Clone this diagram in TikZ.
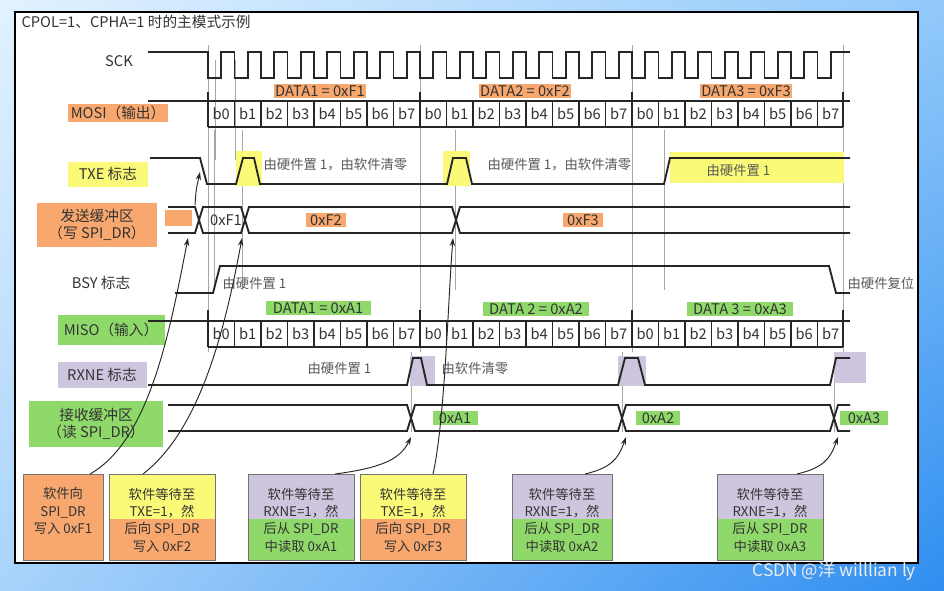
\documentclass[tikz,border=0pt]{standalone}
\usepackage{fontspec}
\setmainfont{Noto Sans CJK SC}
\usetikzlibrary{arrows.meta,shadings}
\definecolor{org}{HTML}{F8A86E}
\definecolor{yel}{HTML}{FBFA78}
\definecolor{grn}{HTML}{8FD96A}
\definecolor{pur}{HTML}{CEC6DE}
\definecolor{txt}{HTML}{333333}
\definecolor{bgul}{HTML}{E2F2FF}
\definecolor{bgur}{HTML}{92C9FA}
\definecolor{bgll}{HTML}{A8D3FB}
\definecolor{bglr}{HTML}{2F8EF0}
\begin{document}
\begin{tikzpicture}[x=0.75pt,y=-0.75pt,
  sig/.style={line width=1.4pt,black!85},
  guide/.style={gray!70,line width=0.5pt},
  lbl/.style={font=\fontsize{11}{13}\selectfont,text=txt,inner sep=1pt},
  note/.style={font=\fontsize{10}{12}\selectfont,text=black!65,inner sep=1pt,anchor=west},
  box/.style={draw=black!55,line width=0.6pt},
  arr/.style={-{Stealth[length=6pt,width=4pt]},line width=0.7pt,black!85},
  btxt/.style={font=\fontsize{10}{13}\selectfont,text=txt,align=center}]
% background
\shade[upper left=bgul,upper right=bgur,lower left=bgll,lower right=bglr] (0,0) rectangle (944,590);
\useasboundingbox (0,0) rectangle (944,590);
\draw[fill=white,line width=0.8pt] (15,12) rectangle (918,563);
\node[lbl,anchor=west] (title) at (20,22) {CPOL=1、CPHA=1 时的主模式示例};
% guides
\foreach \x in {208,420,632,843} \draw[guide] (\x,45) -- (\x,352);
\foreach \x in {214,242,455,664} \draw[guide] (\x,130) -- (\x,290);
\foreach \x in {411,622,834} \draw[guide] (\x,352) -- (\x,432);
\foreach \x in {235,215} \draw[guide] (\x,60) -- (\x,160);
% SCK
\node[lbl] (sck) at (119,61) {SCK};
\draw[sig] (148,52) \foreach \i in {0,...,23}{ -- ({208+\i*26.5},52) -- ({208+\i*26.5},78) -- ({221.25+\i*26.5},78) -- ({221.25+\i*26.5},52)} -- (850,52);
% MOSI
\node[lbl,fill=org,minimum width=100*0.75pt,minimum height=18*0.75pt] (mosi) at (118,113) {MOSI（输出）};
\draw[sig] (148,101) -- (850,101);
\foreach \x in {208,420,632,843} \draw[sig] (\x,92) -- (\x,127);
\draw[sig] (208,127) -- (843,127);
\foreach \i in {0,...,23}{
  \pgfmathtruncatemacro\b{mod(\i,8)}
  \draw[sig,line width=1pt] ({208+\i*26.5},101) -- ({208+\i*26.5},127);
  \node[lbl] (mb\i) at ({221.25+\i*26.5},114) {b\b};}
\node[lbl,fill=org] (d1) at (320,91) {DATA1 = 0xF1};
\node[lbl,fill=org] (d2) at (525,91) {DATA2 = 0xF2};
\node[lbl,fill=org] (d3) at (746,91) {DATA3 = 0xF3};
% TXE
\fill[yel] (236,151) rectangle (262,186);
\fill[yel] (443,151) rectangle (470,186);
\fill[yel] (670,152) rectangle (844,183);
\node[lbl,fill=yel,minimum width=80*0.75pt,minimum height=25*0.75pt] (txe) at (108,174) {TXE 标志};
\draw[sig] (150,158) -- (200,158) -- (207,184) -- (236,184) -- (243,158) -- (254,158) -- (260,184) -- (447,184) -- (453,158) -- (466,158) -- (472,184) -- (664,184) -- (670,158) -- (850,158);
\node[note] (t1) at (262,165) {由硬件置 1，由软件清零};
\node[note] (t2) at (486,165) {由硬件置 1，由软件清零};
\node[note] (t3) at (705,170) {由硬件置 1};
% send buffer
\node[lbl,fill=org,minimum width=120*0.75pt,minimum height=44*0.75pt,align=center] (sb) at (97,225) {发送缓冲区\\（写 SPI\_DR）};
\fill[org] (165,210) rectangle (192,226);
\draw[sig] (168,207) -- (195,207) -- (203,233) -- (241,233) -- (249,207) -- (452,207) -- (460,233) -- (850,233);
\draw[sig] (168,233) -- (195,233) -- (203,207) -- (241,207) -- (249,233) -- (452,233) -- (460,207) -- (850,207);
\node[lbl] (f1) at (226,220) {0xF1};
\node[lbl,fill=org,minimum width=40*0.75pt] (f2) at (326,220) {0xF2};
\node[lbl,fill=org,minimum width=40*0.75pt] (f3) at (583,220) {0xF3};
% BSY
\node[lbl] (bsy) at (101,283) {BSY 标志};
\draw[sig] (175,293) -- (213,293) -- (220,266) -- (829,266) -- (836,293) -- (850,293);
\node[note] (b1) at (221,283) {由硬件置 1};
\node[note] (b2) at (846,283) {由硬件复位};
% MISO
\node[lbl,fill=grn,minimum width=107*0.75pt,minimum height=30*0.75pt] (miso) at (111,330) {MISO（输入）};
\draw[sig] (148,321) -- (850,321);
\foreach \x in {208,420,632,843} \draw[sig] (\x,310) -- (\x,347);
\draw[sig] (208,347) -- (843,347);
\foreach \i in {0,...,23}{
  \pgfmathtruncatemacro\b{mod(\i,8)}
  \draw[sig,line width=1pt] ({208+\i*26.5},321) -- ({208+\i*26.5},347);
  \node[lbl] (sb\i) at ({221.25+\i*26.5},334) {b\b};}
\node[lbl,fill=grn,minimum width=105*0.75pt] (a1) at (318,308) {DATA1 = 0xA1};
\node[lbl,fill=grn,minimum width=106*0.75pt] (a2) at (536,309) {DATA 2 = 0xA2};
\node[lbl,fill=grn,minimum width=106*0.75pt] (a3) at (740,309) {DATA 3 = 0xA3};
% RXNE
\fill[pur] (410,356) rectangle (435,386);
\fill[pur] (618,356) rectangle (646,386);
\fill[pur] (834,352) rectangle (866,383);
\node[lbl,fill=pur,minimum width=89*0.75pt,minimum height=26*0.75pt] (rxne) at (102,375) {RXNE 标志};
\draw[sig] (148,385) -- (407,385) -- (413,358) -- (421,358) -- (427,385) -- (618,385) -- (625,358) -- (638,358) -- (645,385) -- (830,385) -- (836,358) -- (850,358);
\node[note] (r1) at (306,368) {由硬件置 1};
\node[note] (r2) at (440,368) {由软件清零};
% receive buffer
\node[lbl,fill=grn,minimum width=134*0.75pt,minimum height=46*0.75pt,align=center] (rb) at (96,424) {接收缓冲区\\（读 SPI\_DR）};
\draw[sig] (168,405) -- (407,405) -- (415,431) -- (618,431) -- (626,405) -- (830,405) -- (838,431) -- (850,431);
\draw[sig] (168,431) -- (407,431) -- (415,405) -- (618,405) -- (626,431) -- (830,431) -- (838,405) -- (850,405);
\node[lbl,fill=grn,minimum width=45*0.75pt] (x1) at (455,418) {0xA1};
\node[lbl,fill=grn,minimum width=44*0.75pt] (x2) at (658,418) {0xA2};
\node[lbl,fill=grn,minimum width=48*0.75pt] (x3) at (864,418) {0xA3};
% bottom boxes
\fill[org] (23,474) rectangle (103,560); \draw[box] (23,474) rectangle (103,560);
\node[btxt] (n1) at (63,511) {软件向\\SPI\_DR\\写入 0xF1};
\foreach \xa/\xb/\ct/\cb/\nm/\la/\lb/\lc/\ld in {109/215/yel/org/n2/软件等待至/TXE=1，然/后向 SPI\_DR/写入 0xF2,
  248/354/pur/grn/n3/软件等待至/RXNE=1，然/后从 SPI\_DR/中读取 0xA1,
  360/466/yel/org/n4/软件等待至/TXE=1，然/后向 SPI\_DR/写入 0xF3,
  512/612/pur/grn/n5/软件等待至/RXNE=1，然/后从 SPI\_DR/中读取 0xA2,
  717/823/pur/grn/n6/软件等待至/RXNE=1，然/后从 SPI\_DR/中读取 0xA3}{
  \fill[\ct] (\xa,474) rectangle (\xb,519);
  \fill[\cb] (\xa,519) rectangle (\xb,560);
  \draw[box] (\xa,474) rectangle (\xb,560);
  \node[btxt] (\nm) at ({(\xa+\xb)/2},520) {\la\\\lb\\\lc\\\ld};}
% arrows
\coordinate (s1) at (90,474); \coordinate (e1) at (188,238);
\coordinate (s1b) at (195,205); \coordinate (e1b) at (200,172);
\coordinate (s2) at (143,474); \coordinate (e2) at (242,238);
\coordinate (s3) at (335,474); \coordinate (e3) at (411,437);
\coordinate (s4) at (433,474); \coordinate (e4) at (453,238);
\coordinate (s5) at (585,474); \coordinate (e5) at (626,437);
\coordinate (s6) at (797,474); \coordinate (e6) at (838,437);
\draw[arr] (s1) .. controls (150,440) and (170,330) .. (e1);
\draw[arr] (s1b) .. controls (196,190) .. (e1b);
\draw[arr] (s2) .. controls (200,430) and (225,330) .. (e2);
\draw[arr] (s3) .. controls (380,468) and (400,460) .. (e3);
\draw[arr] (s4) .. controls (445,420) and (448,300) .. (e4);
\draw[arr] (s5) .. controls (610,468) and (618,460) .. (e5);
\draw[arr] (s6) .. controls (822,468) and (830,460) .. (e6);
\node[anchor=west,text=white!85!gray,font=\fontsize{13}{15}\selectfont] (wm) at (748,571) {CSDN @洋 willlian ly};
\end{tikzpicture}
\end{document}
